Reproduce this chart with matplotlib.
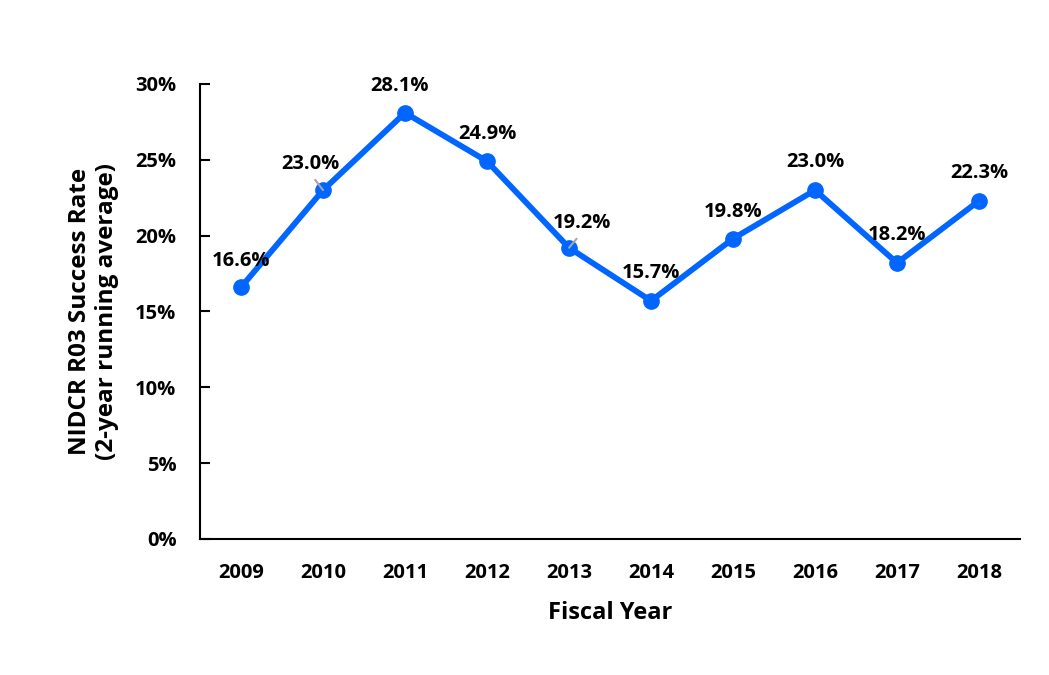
import matplotlib
matplotlib.use("Agg")
import matplotlib.pyplot as plt
from matplotlib.ticker import PercentFormatter

plt.rcParams['font.family'] = ['Open Sans', 'DejaVu Sans']
plt.rcParams['font.weight'] = 'bold'

years = ["2009", "2010", "2011", "2012", "2013", "2014", "2015", "2016", "2017", "2018"]
rates = [16.6, 23.0, 28.1, 24.9, 19.2, 15.7, 19.8, 23.0, 18.2, 22.3]
# label offsets in points (dx, dy) relative to each point
offsets = [(0, 19), (-9, 19), (-4, 19), (0, 20), (9, 18), (0, 20), (0, 19), (0, 20), (0, 20), (0, 20)]
leaders = [False, True, False, False, True, False, False, False, False, False]

fig = plt.figure(figsize=(10.49, 6.75), dpi=100)
ax = fig.add_axes([0.1907, 0.2015, 0.7817, 0.6741])

x = list(range(len(years)))
ax.plot(x, rates, color="#0066FF", lw=4.2, marker="o", ms=11, zorder=3)

for i, (xi, r) in enumerate(zip(x, rates)):
    dx, dy = offsets[i]
    if leaders[i]:
        ax.annotate(f"{r:.1f}%", (xi, r), xytext=(dx, dy), textcoords="offset points",
                    ha="center", va="center", fontsize=14.5, fontweight="bold",
                    arrowprops=dict(arrowstyle="-", color="#A6A6A6", lw=1.5,
                                    relpos=(0.5, 0), shrinkA=3, shrinkB=0),
                    zorder=4)
    else:
        ax.annotate(f"{r:.1f}%", (xi, r), xytext=(dx, dy), textcoords="offset points",
                    ha="center", va="center", fontsize=14.5, fontweight="bold")

ax.set_xlim(-0.5, len(years) - 0.5)
ax.set_ylim(0, 30)
ax.set_yticks([0, 5, 10, 15, 20, 25, 30])
ax.yaxis.set_major_formatter(PercentFormatter(decimals=0))
ax.set_xticks(x)
ax.set_xticklabels(years)
ax.tick_params(axis="y", direction="in", length=7, width=1.5, labelsize=14.5, pad=17)
ax.tick_params(axis="x", length=0, labelsize=14.5, pad=17)

for s in ["top", "right"]:
    ax.spines[s].set_visible(False)
for s in ["left", "bottom"]:
    ax.spines[s].set_linewidth(1.5)

ax.set_xlabel("Fiscal Year", fontsize=17, fontweight="bold", labelpad=13)
ax.set_ylabel("NIDCR R03 Success Rate\n(2-year running average)", fontsize=17.5,
              fontweight="bold", labelpad=12, linespacing=1.15)

fig.savefig("out.png", dpi=100)
